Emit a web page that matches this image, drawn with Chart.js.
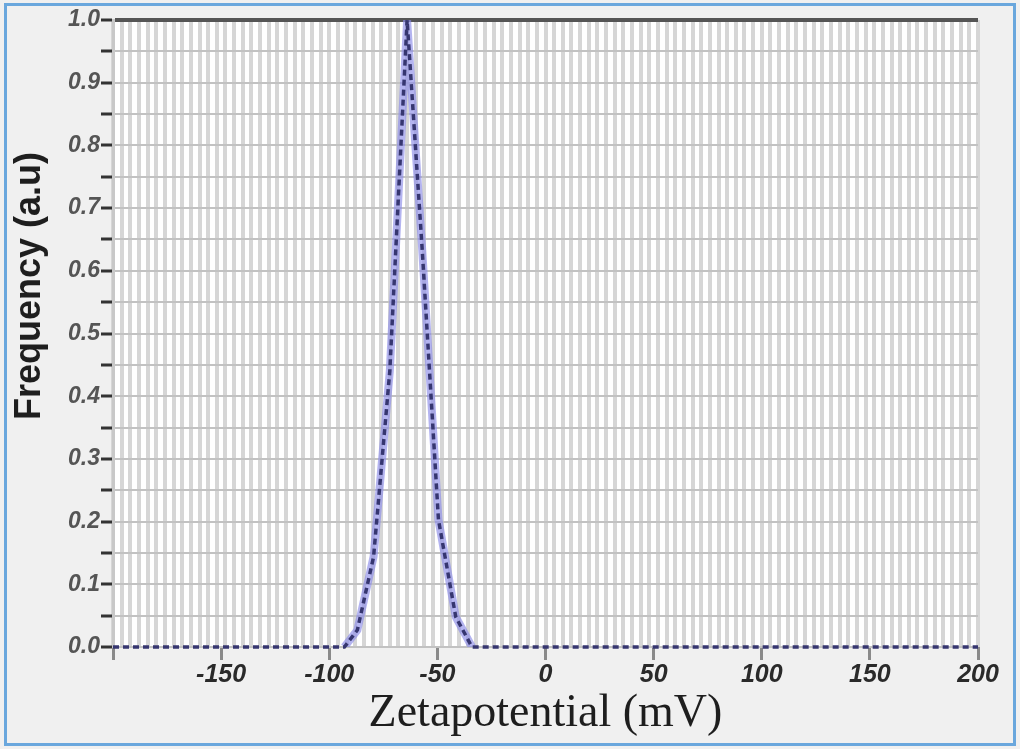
<!DOCTYPE html>
<html>
<head>
<meta charset="utf-8">
<script src="https://cdn.jsdelivr.net/npm/chart.js@4.4.1/dist/chart.umd.min.js"></script>
<style>
  html, body { margin: 0; padding: 0; background: #f0f0f0; }
  #wrap { position: relative; width: 1020px; height: 749px; }
  #frame { position: absolute; left: 4px; top: 3px; width: 1006px; height: 737px; border: 3px solid #6aa7dd; pointer-events: none; }
</style>
</head>
<body>
<div id="wrap">
  <canvas id="zeta" width="1020" height="749"></canvas>
  <div id="frame"></div>
</div>
<script>
// zeta potential distribution
const zetaMv = [-200, -93, -87, -79.5, -72, -64, -57, -49.5, -41.5, -34, 200];
const frequency = [0, 0, 0.027, 0.144, 0.44, 1.0, 0.633, 0.203, 0.048, 0, 0];

const xMajorTicks = [-200, -150, -100, -50, 0, 50, 100, 150, 200];
const yTickValues = [0, 0.05, 0.1, 0.15, 0.2, 0.25, 0.3, 0.35, 0.4, 0.45, 0.5,
                     0.55, 0.6, 0.65, 0.7, 0.75, 0.8, 0.85, 0.9, 0.95, 1.0];
const yTickLabels = ['0.0', '', '0.1', '', '0.2', '', '0.3', '', '0.4', '', '0.5',
                     '', '0.6', '', '0.7', '', '0.8', '', '0.9', '', '1.0'];
const xGridStep = 4;

const points = zetaMv.map((x, i) => ({ x: x, y: frequency[i] }));
const peakPoints = points.slice(1, points.length - 1);

const gridValues = [];
for (let v = -200; v <= 200; v += xGridStep) gridValues.push(v);

const tickFont = { family: 'Liberation Sans', weight: 'bold', style: 'italic' };

const plotBackground = {
  id: 'plotBackground',
  beforeDraw(chart) {
    const { ctx, chartArea: a } = chart;
    ctx.save();
    ctx.fillStyle = '#ffffff';
    ctx.fillRect(a.left, a.top, a.right - a.left, a.bottom - a.top);
    ctx.restore();
  }
};

// y title sits above the middle of the axis in the original, so draw it by hand
const yTitle = {
  id: 'yTitle',
  afterDraw(chart) {
    const ctx = chart.ctx;
    ctx.save();
    ctx.translate(30, 286);
    ctx.rotate(-Math.PI / 2);
    ctx.font = 'bold 36px "Liberation Sans"';
    ctx.fillStyle = '#1e1e1e';
    ctx.textAlign = 'center';
    ctx.textBaseline = 'middle';
    ctx.fillText('Frequency (a.u)', 0, 0);
    ctx.restore();
  }
};

new Chart(document.getElementById('zeta'), {
  type: 'line',
  data: {
    datasets: [
      {
        data: points,
        borderColor: '#363670',
        borderWidth: 3.5,
        borderDash: [6, 4],
        pointRadius: 0,
        tension: 0,
        clip: 4,
        order: 0
      },
      {
        data: peakPoints,
        borderColor: 'rgba(140, 140, 232, 0.65)',
        borderWidth: 8,
        pointRadius: 0,
        tension: 0,
        order: 1
      }
    ]
  },
  options: {
    responsive: false,
    animation: false,
    layout: { padding: { left: 0, top: 20, right: 42, bottom: 0 } },
    plugins: { legend: { display: false }, tooltip: { enabled: false } },
    scales: {
      x: {
        type: 'linear',
        min: -200,
        max: 200,
        position: 'bottom',
        afterFit: s => { s.height = 102; },
        afterBuildTicks: s => { s.ticks = xMajorTicks.map(v => ({ value: v })); },
        border: { display: false },
        grid: { drawOnChartArea: false, tickLength: 13, tickColor: '#8a8a8a', tickWidth: 3 },
        ticks: {
          color: '#2a2a2a',
          padding: 0,
          font: Object.assign({ size: 25 }, tickFont),
          callback: v => (v === -200 ? '' : String(v))
        },
        title: {
          display: true,
          text: 'Zetapotential (mV)',
          color: '#1e1e1e',
          font: { family: 'Liberation Serif', size: 46 },
          padding: { top: 0, bottom: 7 }
        }
      },
      xGrid: {
        type: 'linear',
        min: -200,
        max: 200,
        position: 'bottom',
        afterFit: s => { s.height = 0; },
        afterBuildTicks: s => { s.ticks = gridValues.map(v => ({ value: v })); },
        border: { display: false },
        ticks: { display: false },
        grid: { color: '#d6d6d6', lineWidth: 4, drawTicks: false }
      },
      y: {
        min: 0,
        max: 1,
        afterFit: s => { s.width = 113; },
        afterBuildTicks: s => { s.ticks = yTickValues.map(v => ({ value: v })); },
        border: { display: true, color: '#c8c8c8', width: 3 },
        grid: {
          color: c => (c.tick && c.tick.value === 1 ? '#555555' : '#c2c2c2'),
          lineWidth: c => (c.tick && c.tick.value === 1 ? 4 : 2),
          tickColor: '#333333',
          tickLength: 12,
          tickWidth: 3
        },
        ticks: {
          color: '#555555',
          padding: 1,
          font: Object.assign({ size: 23 }, tickFont),
          callback: (v, i) => yTickLabels[i]
        }
      }
    }
  },
  plugins: [plotBackground, yTitle]
});
</script>
</body>
</html>
